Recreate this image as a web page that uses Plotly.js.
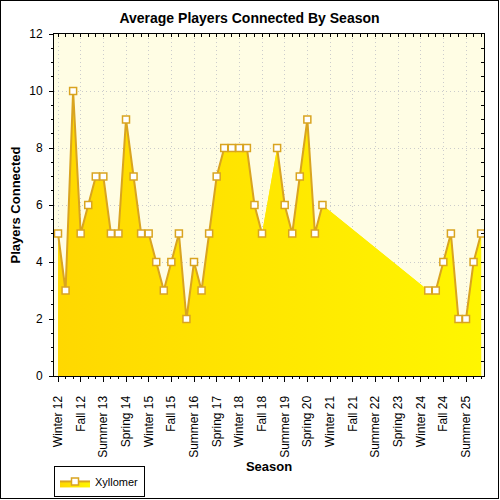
<!DOCTYPE html>
<html>
<head>
<meta charset="utf-8">
<script src="https://cdn.plot.ly/plotly-3.0.1.min.js"></script>
<style>
  html, body { margin: 0; padding: 0; background: #fff; }
  #chart { width: 497px; height: 497px; border: 1px solid #000; }
</style>
</head>
<body>
<div id="chart"></div>
<script>
// one entry per season, Winter 12 .. Winter 26
var seasons = [
  'Winter 12', 'Spring 12', 'Summer 12', 'Fall 12',
  'Winter 13', 'Spring 13', 'Summer 13', 'Fall 13',
  'Winter 14', 'Spring 14', 'Summer 14', 'Fall 14',
  'Winter 15', 'Spring 15', 'Summer 15', 'Fall 15',
  'Winter 16', 'Spring 16', 'Summer 16', 'Fall 16',
  'Winter 17', 'Spring 17', 'Summer 17', 'Fall 17',
  'Winter 18', 'Spring 18', 'Summer 18', 'Fall 18',
  'Winter 19', 'Spring 19', 'Summer 19', 'Fall 19',
  'Winter 20', 'Spring 20', 'Summer 20', 'Fall 20',
  'Winter 21', 'Spring 21', 'Summer 21', 'Fall 21',
  'Winter 22', 'Spring 22', 'Summer 22', 'Fall 22',
  'Winter 23', 'Spring 23', 'Summer 23', 'Fall 23',
  'Winter 24', 'Spring 24', 'Summer 24', 'Fall 24',
  'Winter 25', 'Spring 25', 'Summer 25', 'Fall 25',
  'Winter 26'
];

// average players, null = no data that season
var xyllomer = [
  5, 3, 10, 5,
  6, 7, 7, 5,
  5, 9, 7, 5,
  5, 4, 3, 4,
  5, 2, 4, 3,
  5, 7, 8, 8,
  8, 8, 6, 5,
  null, 8, 6, 5,
  7, 9, 5, 6,
  null, null, null, null,
  null, null, null, null,
  null, null, null, null,
  null, 3, 3, 4,
  5, 2, 2, 4,
  5
];

// labelled seasons on the x axis
var tickLabels = [
  'Winter 12', 'Fall 12', 'Summer 13', 'Spring 14', 'Winter 15', 'Fall 15',
  'Summer 16', 'Spring 17', 'Winter 18', 'Fall 18', 'Summer 19', 'Spring 20',
  'Winter 21', 'Fall 21', 'Summer 22', 'Spring 23', 'Winter 24', 'Fall 24',
  'Summer 25'
];

var xIdx = seasons.map(function (s, i) { return i; });
var tickPos = tickLabels.map(function (t) { return seasons.indexOf(t); });

var font = 'Liberation Sans, Arial, sans-serif';
var gold = '#d9a420';
var grad = { type: 'horizontal', colorscale: [[0, '#ffd800'], [1, '#fff600']] };
var xRange = [-0.53, 56.38];
var yRange = [0, 12];

// area under the data, gaps bridged
var area = {
  x: xIdx, y: xyllomer,
  type: 'scatter', mode: 'none',
  connectgaps: true, fill: 'tozeroy', fillgradient: grad,
  showlegend: false, hoverinfo: 'skip'
};

// line and markers, broken where there is no data
var line = {
  x: xIdx, y: xyllomer, name: 'Xyllomer',
  type: 'scatter', mode: 'lines+markers',
  connectgaps: false, fill: 'tozeroy', fillgradient: grad,
  line: { color: gold, width: 2 },
  marker: { symbol: 'square', size: 7, color: '#fff', line: { color: gold, width: 1.5 } }
};

// empty trace so the inside ticks on top and right are drawn
var frame = { x: [null], y: [null], xaxis: 'x2', yaxis: 'y2', type: 'scatter',
  showlegend: false, hoverinfo: 'skip' };

var layout = {
  width: 497, height: 497,
  margin: { l: 53, r: 14, t: 33, b: 122, autoexpand: false },
  paper_bgcolor: '#fff',
  plot_bgcolor: '#fffde4',
  font: { family: font, size: 12, color: '#000' },
  title: {
    text: '<b>Average Players Connected By Season</b>',
    font: { family: font, size: 14, color: '#000' },
    x: 0.5, xanchor: 'center', y: 0.965, yanchor: 'middle'
  },
  showlegend: true,
  legend: {
    x: 0, xanchor: 'left', y: -0.263, yanchor: 'top',
    bgcolor: '#fff', bordercolor: '#000', borderwidth: 1,
    font: { family: font, size: 11, color: '#000' },
    itemwidth: 30
  },
  xaxis: {
    range: xRange, zeroline: false,
    tickmode: 'array', tickvals: tickPos, ticktext: tickLabels,
    tickangle: -90, ticks: 'outside', ticklen: 5, tickcolor: '#000',
    ticklabelstandoff: 9,
    tickfont: { family: font, size: 12, color: '#000' },
    minor: { tickmode: 'linear', tick0: 0, dtick: 1, ticks: 'outside', ticklen: 2, tickcolor: '#000', showgrid: false },
    showline: true, linecolor: '#000', linewidth: 1, mirror: true,
    showgrid: true, gridcolor: '#cccccc', griddash: '1px,3px', gridwidth: 1,
    title: { text: '<b>Season</b>', font: { family: font, size: 13, color: '#000' }, standoff: 5 },
    automargin: false
  },
  yaxis: {
    range: yRange, zeroline: false,
    tickmode: 'linear', tick0: 0, dtick: 2,
    ticks: 'outside', ticklen: 4, tickcolor: '#000',
    ticklabelstandoff: 4,
    tickfont: { family: font, size: 12, color: '#000' },
    minor: { tickmode: 'linear', tick0: 0, dtick: 0.5, ticks: 'outside', ticklen: 2, tickcolor: '#000', showgrid: false },
    showline: true, linecolor: '#000', linewidth: 1, mirror: true,
    showgrid: true, gridcolor: '#cccccc', griddash: '1px,3px', gridwidth: 1,
    title: { text: '<b>Players Connected</b>', font: { family: font, size: 13, color: '#000' }, standoff: 5 },
    automargin: false
  },
  xaxis2: {
    overlaying: 'x', side: 'top', range: xRange,
    tickmode: 'linear', tick0: 0, dtick: 1,
    ticks: 'inside', ticklen: 3, tickcolor: '#000',
    showticklabels: false, showgrid: false, zeroline: false, showline: false
  },
  yaxis2: {
    overlaying: 'y', side: 'right', range: yRange,
    tickmode: 'linear', tick0: 0, dtick: 0.5,
    ticks: 'inside', ticklen: 3, tickcolor: '#000',
    showticklabels: false, showgrid: false, zeroline: false, showline: false
  }
};

Plotly.newPlot('chart', [area, line, frame], layout, { displayModeBar: false, staticPlot: true });
</script>
</body>
</html>
